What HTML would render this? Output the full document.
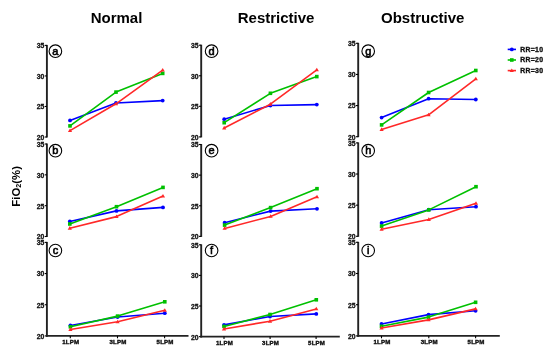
<!DOCTYPE html><html><head><meta charset="utf-8"><title>FiO2 figure</title><style>html,body{margin:0;padding:0;background:#fff;}body{width:550px;height:355px;overflow:hidden;}svg{display:block;}</style></head><body>
<svg width="550" height="355" viewBox="0 0 550 355" font-family="'Liberation Sans', Arial, Helvetica, sans-serif">
<rect width="550" height="355" fill="#fff"/>
<g>
<text x="116.5" y="22.7" font-size="15" font-weight="bold" text-anchor="middle" fill="#000">Normal</text>
<text x="276.1" y="22.7" font-size="15" font-weight="bold" text-anchor="middle" fill="#000">Restrictive</text>
<text x="422.7" y="22.7" font-size="15" font-weight="bold" text-anchor="middle" fill="#000">Obstructive</text>
<text transform="translate(20.3,186.3) rotate(-90)" font-size="11.4" font-weight="bold" text-anchor="middle" fill="#000">FiO<tspan font-size="7.2" dy="0.9">2</tspan><tspan dy="-0.9">(%)</tspan></text>
<g><line x1="46.9" y1="44.90" x2="46.9" y2="137.50" stroke="#222" stroke-width="1.9"/><line x1="44.70" y1="45.40" x2="46.9" y2="45.40" stroke="#000" stroke-width="1.1"/><text x="44.30" y="48.30" font-size="6.8" font-weight="bold" text-anchor="end" fill="#111" stroke="#111" stroke-width="0.3">35</text><line x1="44.70" y1="75.93" x2="46.9" y2="75.93" stroke="#000" stroke-width="1.1"/><text x="44.30" y="78.83" font-size="6.8" font-weight="bold" text-anchor="end" fill="#111" stroke="#111" stroke-width="0.3">30</text><line x1="44.70" y1="106.47" x2="46.9" y2="106.47" stroke="#000" stroke-width="1.1"/><text x="44.30" y="109.37" font-size="6.8" font-weight="bold" text-anchor="end" fill="#111" stroke="#111" stroke-width="0.3">25</text><line x1="44.70" y1="137.00" x2="46.9" y2="137.00" stroke="#000" stroke-width="1.1"/><text x="44.30" y="139.90" font-size="6.8" font-weight="bold" text-anchor="end" fill="#111" stroke="#111" stroke-width="0.3">20</text><circle cx="55.4" cy="51.2" r="6.3" fill="none" stroke="#000" stroke-width="1.1"/><text x="55.4" y="54.90" font-size="11" text-anchor="middle" fill="#000" stroke="#000" stroke-width="0.6">a</text><polyline points="70.00,120.40 116.00,103.00 162.70,100.60" fill="none" stroke="#0000ff" stroke-width="1.6" stroke-linejoin="round"/><circle cx="70.00" cy="120.40" r="1.9" fill="#0000ff"/><circle cx="116.00" cy="103.00" r="1.9" fill="#0000ff"/><circle cx="162.70" cy="100.60" r="1.9" fill="#0000ff"/><polyline points="70.00,125.90 116.00,92.10 162.70,73.40" fill="none" stroke="#00c000" stroke-width="1.6" stroke-linejoin="round"/><rect x="68.20" y="124.10" width="3.6" height="3.6" fill="#00c000"/><rect x="114.20" y="90.30" width="3.6" height="3.6" fill="#00c000"/><rect x="160.90" y="71.60" width="3.6" height="3.6" fill="#00c000"/><polyline points="70.00,130.60 116.00,103.80 162.70,70.10" fill="none" stroke="#ff2828" stroke-width="1.6" stroke-linejoin="round"/><polygon points="70.00,128.44 67.91,132.04 72.09,132.04" fill="#ff2828"/><polygon points="116.00,101.64 113.91,105.24 118.09,105.24" fill="#ff2828"/><polygon points="162.70,67.94 160.61,71.54 164.79,71.54" fill="#ff2828"/></g>
<g><line x1="46.9" y1="143.50" x2="46.9" y2="237.00" stroke="#222" stroke-width="1.9"/><line x1="44.70" y1="144.00" x2="46.9" y2="144.00" stroke="#000" stroke-width="1.1"/><text x="44.30" y="146.90" font-size="6.8" font-weight="bold" text-anchor="end" fill="#111" stroke="#111" stroke-width="0.3">35</text><line x1="44.70" y1="174.83" x2="46.9" y2="174.83" stroke="#000" stroke-width="1.1"/><text x="44.30" y="177.73" font-size="6.8" font-weight="bold" text-anchor="end" fill="#111" stroke="#111" stroke-width="0.3">30</text><line x1="44.70" y1="205.67" x2="46.9" y2="205.67" stroke="#000" stroke-width="1.1"/><text x="44.30" y="208.57" font-size="6.8" font-weight="bold" text-anchor="end" fill="#111" stroke="#111" stroke-width="0.3">25</text><line x1="44.70" y1="236.50" x2="46.9" y2="236.50" stroke="#000" stroke-width="1.1"/><text x="44.30" y="239.40" font-size="6.8" font-weight="bold" text-anchor="end" fill="#111" stroke="#111" stroke-width="0.3">20</text><circle cx="55.4" cy="150.7" r="6.3" fill="none" stroke="#000" stroke-width="1.1"/><text x="55.4" y="154.40" font-size="11" text-anchor="middle" fill="#000" stroke="#000" stroke-width="0.6">b</text><polyline points="69.80,221.50 116.50,210.90 163.00,207.40" fill="none" stroke="#0000ff" stroke-width="1.6" stroke-linejoin="round"/><circle cx="69.80" cy="221.50" r="1.9" fill="#0000ff"/><circle cx="116.50" cy="210.90" r="1.9" fill="#0000ff"/><circle cx="163.00" cy="207.40" r="1.9" fill="#0000ff"/><polyline points="69.80,224.00 116.50,206.70 163.00,187.40" fill="none" stroke="#00c000" stroke-width="1.6" stroke-linejoin="round"/><rect x="68.00" y="222.20" width="3.6" height="3.6" fill="#00c000"/><rect x="114.70" y="204.90" width="3.6" height="3.6" fill="#00c000"/><rect x="161.20" y="185.60" width="3.6" height="3.6" fill="#00c000"/><polyline points="69.80,228.20 116.50,216.60 163.00,196.10" fill="none" stroke="#ff2828" stroke-width="1.6" stroke-linejoin="round"/><polygon points="69.80,226.04 67.71,229.64 71.89,229.64" fill="#ff2828"/><polygon points="116.50,214.44 114.41,218.04 118.59,218.04" fill="#ff2828"/><polygon points="163.00,193.94 160.91,197.54 165.09,197.54" fill="#ff2828"/></g>
<g><line x1="46.9" y1="241.90" x2="46.9" y2="336.85" stroke="#222" stroke-width="1.9"/><line x1="44.70" y1="242.40" x2="46.9" y2="242.40" stroke="#000" stroke-width="1.1"/><text x="44.30" y="245.30" font-size="6.8" font-weight="bold" text-anchor="end" fill="#111" stroke="#111" stroke-width="0.3">35</text><line x1="44.70" y1="273.57" x2="46.9" y2="273.57" stroke="#000" stroke-width="1.1"/><text x="44.30" y="276.47" font-size="6.8" font-weight="bold" text-anchor="end" fill="#111" stroke="#111" stroke-width="0.3">30</text><line x1="44.70" y1="304.73" x2="46.9" y2="304.73" stroke="#000" stroke-width="1.1"/><text x="44.30" y="307.63" font-size="6.8" font-weight="bold" text-anchor="end" fill="#111" stroke="#111" stroke-width="0.3">25</text><line x1="44.70" y1="335.90" x2="46.9" y2="335.90" stroke="#000" stroke-width="1.1"/><text x="44.30" y="338.80" font-size="6.8" font-weight="bold" text-anchor="end" fill="#111" stroke="#111" stroke-width="0.3">20</text><line x1="45.95" y1="335.9" x2="188.5" y2="335.9" stroke="#222" stroke-width="1.9"/><line x1="70.3" y1="335.9" x2="70.3" y2="338.29999999999995" stroke="#000" stroke-width="1.1"/><text x="70.80" y="344.10" font-size="6.1" letter-spacing="0.2" font-weight="bold" text-anchor="middle" fill="#111" stroke="#111" stroke-width="0.38">1LPM</text><line x1="117.5" y1="335.9" x2="117.5" y2="338.29999999999995" stroke="#000" stroke-width="1.1"/><text x="118.00" y="344.10" font-size="6.1" letter-spacing="0.2" font-weight="bold" text-anchor="middle" fill="#111" stroke="#111" stroke-width="0.38">3LPM</text><line x1="164.6" y1="335.9" x2="164.6" y2="338.29999999999995" stroke="#000" stroke-width="1.1"/><text x="165.10" y="344.10" font-size="6.1" letter-spacing="0.2" font-weight="bold" text-anchor="middle" fill="#111" stroke="#111" stroke-width="0.38">5LPM</text><circle cx="55.4" cy="250.5" r="6.3" fill="none" stroke="#000" stroke-width="1.1"/><text x="55.4" y="254.20" font-size="11" text-anchor="middle" fill="#000" stroke="#000" stroke-width="0.6">c</text><polyline points="70.40,325.50 117.60,317.00 164.80,313.20" fill="none" stroke="#0000ff" stroke-width="1.6" stroke-linejoin="round"/><circle cx="70.40" cy="325.50" r="1.9" fill="#0000ff"/><circle cx="117.60" cy="317.00" r="1.9" fill="#0000ff"/><circle cx="164.80" cy="313.20" r="1.9" fill="#0000ff"/><polyline points="70.40,326.80 117.60,316.10 164.80,301.80" fill="none" stroke="#00c000" stroke-width="1.6" stroke-linejoin="round"/><rect x="68.60" y="325.00" width="3.6" height="3.6" fill="#00c000"/><rect x="115.80" y="314.30" width="3.6" height="3.6" fill="#00c000"/><rect x="163.00" y="300.00" width="3.6" height="3.6" fill="#00c000"/><polyline points="70.40,329.50 117.60,321.80 164.80,310.30" fill="none" stroke="#ff2828" stroke-width="1.6" stroke-linejoin="round"/><polygon points="70.40,327.34 68.31,330.94 72.49,330.94" fill="#ff2828"/><polygon points="117.60,319.64 115.51,323.24 119.69,323.24" fill="#ff2828"/><polygon points="164.80,308.14 162.71,311.74 166.89,311.74" fill="#ff2828"/></g>
<g><line x1="201.2" y1="44.70" x2="201.2" y2="137.40" stroke="#222" stroke-width="1.9"/><line x1="199.00" y1="45.20" x2="201.2" y2="45.20" stroke="#000" stroke-width="1.1"/><text x="198.60" y="48.10" font-size="6.8" font-weight="bold" text-anchor="end" fill="#111" stroke="#111" stroke-width="0.3">35</text><line x1="199.00" y1="75.77" x2="201.2" y2="75.77" stroke="#000" stroke-width="1.1"/><text x="198.60" y="78.67" font-size="6.8" font-weight="bold" text-anchor="end" fill="#111" stroke="#111" stroke-width="0.3">30</text><line x1="199.00" y1="106.33" x2="201.2" y2="106.33" stroke="#000" stroke-width="1.1"/><text x="198.60" y="109.23" font-size="6.8" font-weight="bold" text-anchor="end" fill="#111" stroke="#111" stroke-width="0.3">25</text><line x1="199.00" y1="136.90" x2="201.2" y2="136.90" stroke="#000" stroke-width="1.1"/><text x="198.60" y="139.80" font-size="6.8" font-weight="bold" text-anchor="end" fill="#111" stroke="#111" stroke-width="0.3">20</text><circle cx="211.6" cy="51.2" r="6.3" fill="none" stroke="#000" stroke-width="1.1"/><text x="211.6" y="54.90" font-size="11" text-anchor="middle" fill="#000" stroke="#000" stroke-width="0.6">d</text><polyline points="224.20,119.20 270.40,105.50 316.80,104.60" fill="none" stroke="#0000ff" stroke-width="1.6" stroke-linejoin="round"/><circle cx="224.20" cy="119.20" r="1.9" fill="#0000ff"/><circle cx="270.40" cy="105.50" r="1.9" fill="#0000ff"/><circle cx="316.80" cy="104.60" r="1.9" fill="#0000ff"/><polyline points="224.20,122.70 270.40,93.30 316.80,76.60" fill="none" stroke="#00c000" stroke-width="1.6" stroke-linejoin="round"/><rect x="222.40" y="120.90" width="3.6" height="3.6" fill="#00c000"/><rect x="268.60" y="91.50" width="3.6" height="3.6" fill="#00c000"/><rect x="315.00" y="74.80" width="3.6" height="3.6" fill="#00c000"/><polyline points="224.20,128.00 270.40,104.20 316.80,69.90" fill="none" stroke="#ff2828" stroke-width="1.6" stroke-linejoin="round"/><polygon points="224.20,125.84 222.11,129.44 226.29,129.44" fill="#ff2828"/><polygon points="270.40,102.04 268.31,105.64 272.49,105.64" fill="#ff2828"/><polygon points="316.80,67.74 314.71,71.34 318.89,71.34" fill="#ff2828"/></g>
<g><line x1="201.2" y1="144.00" x2="201.2" y2="236.90" stroke="#222" stroke-width="1.9"/><line x1="199.00" y1="144.50" x2="201.2" y2="144.50" stroke="#000" stroke-width="1.1"/><text x="198.60" y="147.40" font-size="6.8" font-weight="bold" text-anchor="end" fill="#111" stroke="#111" stroke-width="0.3">35</text><line x1="199.00" y1="175.13" x2="201.2" y2="175.13" stroke="#000" stroke-width="1.1"/><text x="198.60" y="178.03" font-size="6.8" font-weight="bold" text-anchor="end" fill="#111" stroke="#111" stroke-width="0.3">30</text><line x1="199.00" y1="205.77" x2="201.2" y2="205.77" stroke="#000" stroke-width="1.1"/><text x="198.60" y="208.67" font-size="6.8" font-weight="bold" text-anchor="end" fill="#111" stroke="#111" stroke-width="0.3">25</text><line x1="199.00" y1="236.40" x2="201.2" y2="236.40" stroke="#000" stroke-width="1.1"/><text x="198.60" y="239.30" font-size="6.8" font-weight="bold" text-anchor="end" fill="#111" stroke="#111" stroke-width="0.3">20</text><circle cx="211.6" cy="150.7" r="6.3" fill="none" stroke="#000" stroke-width="1.1"/><text x="211.6" y="154.40" font-size="11" text-anchor="middle" fill="#000" stroke="#000" stroke-width="0.6">e</text><polyline points="224.60,222.70 270.60,211.10 317.00,208.80" fill="none" stroke="#0000ff" stroke-width="1.6" stroke-linejoin="round"/><circle cx="224.60" cy="222.70" r="1.9" fill="#0000ff"/><circle cx="270.60" cy="211.10" r="1.9" fill="#0000ff"/><circle cx="317.00" cy="208.80" r="1.9" fill="#0000ff"/><polyline points="224.60,225.10 270.60,207.60 317.00,188.70" fill="none" stroke="#00c000" stroke-width="1.6" stroke-linejoin="round"/><rect x="222.80" y="223.30" width="3.6" height="3.6" fill="#00c000"/><rect x="268.80" y="205.80" width="3.6" height="3.6" fill="#00c000"/><rect x="315.20" y="186.90" width="3.6" height="3.6" fill="#00c000"/><polyline points="224.60,228.40 270.60,216.40 317.00,196.80" fill="none" stroke="#ff2828" stroke-width="1.6" stroke-linejoin="round"/><polygon points="224.60,226.24 222.51,229.84 226.69,229.84" fill="#ff2828"/><polygon points="270.60,214.24 268.51,217.84 272.69,217.84" fill="#ff2828"/><polygon points="317.00,194.64 314.91,198.24 319.09,198.24" fill="#ff2828"/></g>
<g><line x1="201.2" y1="244.30" x2="201.2" y2="337.55" stroke="#222" stroke-width="1.9"/><line x1="199.00" y1="244.80" x2="201.2" y2="244.80" stroke="#000" stroke-width="1.1"/><text x="198.60" y="247.70" font-size="6.8" font-weight="bold" text-anchor="end" fill="#111" stroke="#111" stroke-width="0.3">35</text><line x1="199.00" y1="275.40" x2="201.2" y2="275.40" stroke="#000" stroke-width="1.1"/><text x="198.60" y="278.30" font-size="6.8" font-weight="bold" text-anchor="end" fill="#111" stroke="#111" stroke-width="0.3">30</text><line x1="199.00" y1="306.00" x2="201.2" y2="306.00" stroke="#000" stroke-width="1.1"/><text x="198.60" y="308.90" font-size="6.8" font-weight="bold" text-anchor="end" fill="#111" stroke="#111" stroke-width="0.3">25</text><line x1="199.00" y1="336.60" x2="201.2" y2="336.60" stroke="#000" stroke-width="1.1"/><text x="198.60" y="339.50" font-size="6.8" font-weight="bold" text-anchor="end" fill="#111" stroke="#111" stroke-width="0.3">20</text><line x1="200.25" y1="336.6" x2="339.8" y2="336.6" stroke="#222" stroke-width="1.9"/><line x1="224.0" y1="336.6" x2="224.0" y2="339.0" stroke="#000" stroke-width="1.1"/><text x="224.50" y="344.80" font-size="6.1" letter-spacing="0.2" font-weight="bold" text-anchor="middle" fill="#111" stroke="#111" stroke-width="0.38">1LPM</text><line x1="270.1" y1="336.6" x2="270.1" y2="339.0" stroke="#000" stroke-width="1.1"/><text x="270.60" y="344.80" font-size="6.1" letter-spacing="0.2" font-weight="bold" text-anchor="middle" fill="#111" stroke="#111" stroke-width="0.38">3LPM</text><line x1="316.1" y1="336.6" x2="316.1" y2="339.0" stroke="#000" stroke-width="1.1"/><text x="316.60" y="344.80" font-size="6.1" letter-spacing="0.2" font-weight="bold" text-anchor="middle" fill="#111" stroke="#111" stroke-width="0.38">5LPM</text><circle cx="211.6" cy="250.5" r="6.3" fill="none" stroke="#000" stroke-width="1.1"/><text x="211.6" y="254.20" font-size="11" text-anchor="middle" fill="#000" stroke="#000" stroke-width="0.6">f</text><polyline points="224.00,324.90 270.00,316.50 316.30,313.90" fill="none" stroke="#0000ff" stroke-width="1.6" stroke-linejoin="round"/><circle cx="224.00" cy="324.90" r="1.9" fill="#0000ff"/><circle cx="270.00" cy="316.50" r="1.9" fill="#0000ff"/><circle cx="316.30" cy="313.90" r="1.9" fill="#0000ff"/><polyline points="224.00,326.40 270.00,314.50 316.30,299.80" fill="none" stroke="#00c000" stroke-width="1.6" stroke-linejoin="round"/><rect x="222.20" y="324.60" width="3.6" height="3.6" fill="#00c000"/><rect x="268.20" y="312.70" width="3.6" height="3.6" fill="#00c000"/><rect x="314.50" y="298.00" width="3.6" height="3.6" fill="#00c000"/><polyline points="224.00,329.00 270.00,321.20 316.30,308.90" fill="none" stroke="#ff2828" stroke-width="1.6" stroke-linejoin="round"/><polygon points="224.00,326.84 221.91,330.44 226.09,330.44" fill="#ff2828"/><polygon points="270.00,319.04 267.91,322.64 272.09,322.64" fill="#ff2828"/><polygon points="316.30,306.74 314.21,310.34 318.39,310.34" fill="#ff2828"/></g>
<g><line x1="358.2" y1="42.80" x2="358.2" y2="137.20" stroke="#222" stroke-width="1.9"/><line x1="356.00" y1="43.30" x2="358.2" y2="43.30" stroke="#000" stroke-width="1.1"/><text x="355.60" y="46.20" font-size="6.8" font-weight="bold" text-anchor="end" fill="#111" stroke="#111" stroke-width="0.3">35</text><line x1="356.00" y1="74.43" x2="358.2" y2="74.43" stroke="#000" stroke-width="1.1"/><text x="355.60" y="77.33" font-size="6.8" font-weight="bold" text-anchor="end" fill="#111" stroke="#111" stroke-width="0.3">30</text><line x1="356.00" y1="105.57" x2="358.2" y2="105.57" stroke="#000" stroke-width="1.1"/><text x="355.60" y="108.47" font-size="6.8" font-weight="bold" text-anchor="end" fill="#111" stroke="#111" stroke-width="0.3">25</text><line x1="356.00" y1="136.70" x2="358.2" y2="136.70" stroke="#000" stroke-width="1.1"/><text x="355.60" y="139.60" font-size="6.8" font-weight="bold" text-anchor="end" fill="#111" stroke="#111" stroke-width="0.3">20</text><circle cx="368.2" cy="51.2" r="6.3" fill="none" stroke="#000" stroke-width="1.1"/><text x="368.2" y="54.90" font-size="11" text-anchor="middle" fill="#000" stroke="#000" stroke-width="0.6">g</text><polyline points="381.60,117.60 428.60,98.70 475.80,99.50" fill="none" stroke="#0000ff" stroke-width="1.6" stroke-linejoin="round"/><circle cx="381.60" cy="117.60" r="1.9" fill="#0000ff"/><circle cx="428.60" cy="98.70" r="1.9" fill="#0000ff"/><circle cx="475.80" cy="99.50" r="1.9" fill="#0000ff"/><polyline points="381.60,124.90 428.60,92.50 475.80,70.50" fill="none" stroke="#00c000" stroke-width="1.6" stroke-linejoin="round"/><rect x="379.80" y="123.10" width="3.6" height="3.6" fill="#00c000"/><rect x="426.80" y="90.70" width="3.6" height="3.6" fill="#00c000"/><rect x="474.00" y="68.70" width="3.6" height="3.6" fill="#00c000"/><polyline points="381.60,129.50 428.60,114.80 475.80,78.90" fill="none" stroke="#ff2828" stroke-width="1.6" stroke-linejoin="round"/><polygon points="381.60,127.34 379.51,130.94 383.69,130.94" fill="#ff2828"/><polygon points="428.60,112.64 426.51,116.24 430.69,116.24" fill="#ff2828"/><polygon points="475.80,76.74 473.71,80.34 477.89,80.34" fill="#ff2828"/></g>
<g><line x1="358.2" y1="142.40" x2="358.2" y2="236.80" stroke="#222" stroke-width="1.9"/><line x1="356.00" y1="142.90" x2="358.2" y2="142.90" stroke="#000" stroke-width="1.1"/><text x="355.60" y="145.80" font-size="6.8" font-weight="bold" text-anchor="end" fill="#111" stroke="#111" stroke-width="0.3">35</text><line x1="356.00" y1="174.03" x2="358.2" y2="174.03" stroke="#000" stroke-width="1.1"/><text x="355.60" y="176.93" font-size="6.8" font-weight="bold" text-anchor="end" fill="#111" stroke="#111" stroke-width="0.3">30</text><line x1="356.00" y1="205.17" x2="358.2" y2="205.17" stroke="#000" stroke-width="1.1"/><text x="355.60" y="208.07" font-size="6.8" font-weight="bold" text-anchor="end" fill="#111" stroke="#111" stroke-width="0.3">25</text><line x1="356.00" y1="236.30" x2="358.2" y2="236.30" stroke="#000" stroke-width="1.1"/><text x="355.60" y="239.20" font-size="6.8" font-weight="bold" text-anchor="end" fill="#111" stroke="#111" stroke-width="0.3">20</text><circle cx="368.2" cy="150.7" r="6.3" fill="none" stroke="#000" stroke-width="1.1"/><text x="368.2" y="154.40" font-size="11" text-anchor="middle" fill="#000" stroke="#000" stroke-width="0.6">h</text><polyline points="381.60,223.00 428.80,209.70 476.00,206.70" fill="none" stroke="#0000ff" stroke-width="1.6" stroke-linejoin="round"/><circle cx="381.60" cy="223.00" r="1.9" fill="#0000ff"/><circle cx="428.80" cy="209.70" r="1.9" fill="#0000ff"/><circle cx="476.00" cy="206.70" r="1.9" fill="#0000ff"/><polyline points="381.60,226.10 428.80,209.90 476.00,186.70" fill="none" stroke="#00c000" stroke-width="1.6" stroke-linejoin="round"/><rect x="379.80" y="224.30" width="3.6" height="3.6" fill="#00c000"/><rect x="427.00" y="208.10" width="3.6" height="3.6" fill="#00c000"/><rect x="474.20" y="184.90" width="3.6" height="3.6" fill="#00c000"/><polyline points="381.60,229.20 428.80,219.50 476.00,203.30" fill="none" stroke="#ff2828" stroke-width="1.6" stroke-linejoin="round"/><polygon points="381.60,227.04 379.51,230.64 383.69,230.64" fill="#ff2828"/><polygon points="428.80,217.34 426.71,220.94 430.89,220.94" fill="#ff2828"/><polygon points="476.00,201.14 473.91,204.74 478.09,204.74" fill="#ff2828"/></g>
<g><line x1="358.2" y1="241.80" x2="358.2" y2="336.85" stroke="#222" stroke-width="1.9"/><line x1="356.00" y1="242.30" x2="358.2" y2="242.30" stroke="#000" stroke-width="1.1"/><text x="355.60" y="245.20" font-size="6.8" font-weight="bold" text-anchor="end" fill="#111" stroke="#111" stroke-width="0.3">35</text><line x1="356.00" y1="273.50" x2="358.2" y2="273.50" stroke="#000" stroke-width="1.1"/><text x="355.60" y="276.40" font-size="6.8" font-weight="bold" text-anchor="end" fill="#111" stroke="#111" stroke-width="0.3">30</text><line x1="356.00" y1="304.70" x2="358.2" y2="304.70" stroke="#000" stroke-width="1.1"/><text x="355.60" y="307.60" font-size="6.8" font-weight="bold" text-anchor="end" fill="#111" stroke="#111" stroke-width="0.3">25</text><line x1="356.00" y1="335.90" x2="358.2" y2="335.90" stroke="#000" stroke-width="1.1"/><text x="355.60" y="338.80" font-size="6.8" font-weight="bold" text-anchor="end" fill="#111" stroke="#111" stroke-width="0.3">20</text><line x1="357.25" y1="335.9" x2="499.8" y2="335.9" stroke="#222" stroke-width="1.9"/><line x1="381.5" y1="335.9" x2="381.5" y2="338.29999999999995" stroke="#000" stroke-width="1.1"/><text x="382.00" y="344.10" font-size="6.1" letter-spacing="0.2" font-weight="bold" text-anchor="middle" fill="#111" stroke="#111" stroke-width="0.38">1LPM</text><line x1="428.8" y1="335.9" x2="428.8" y2="338.29999999999995" stroke="#000" stroke-width="1.1"/><text x="429.30" y="344.10" font-size="6.1" letter-spacing="0.2" font-weight="bold" text-anchor="middle" fill="#111" stroke="#111" stroke-width="0.38">3LPM</text><line x1="475.6" y1="335.9" x2="475.6" y2="338.29999999999995" stroke="#000" stroke-width="1.1"/><text x="476.10" y="344.10" font-size="6.1" letter-spacing="0.2" font-weight="bold" text-anchor="middle" fill="#111" stroke="#111" stroke-width="0.38">5LPM</text><circle cx="368.2" cy="250.5" r="6.3" fill="none" stroke="#000" stroke-width="1.1"/><text x="368.2" y="254.20" font-size="11" text-anchor="middle" fill="#000" stroke="#000" stroke-width="0.6">i</text><polyline points="381.50,324.00 428.50,314.60 475.60,310.80" fill="none" stroke="#0000ff" stroke-width="1.6" stroke-linejoin="round"/><circle cx="381.50" cy="324.00" r="1.9" fill="#0000ff"/><circle cx="428.50" cy="314.60" r="1.9" fill="#0000ff"/><circle cx="475.60" cy="310.80" r="1.9" fill="#0000ff"/><polyline points="381.50,326.30 428.50,317.10 475.60,302.30" fill="none" stroke="#00c000" stroke-width="1.6" stroke-linejoin="round"/><rect x="379.70" y="324.50" width="3.6" height="3.6" fill="#00c000"/><rect x="426.70" y="315.30" width="3.6" height="3.6" fill="#00c000"/><rect x="473.80" y="300.50" width="3.6" height="3.6" fill="#00c000"/><polyline points="381.50,328.00 428.50,319.90 475.60,308.90" fill="none" stroke="#ff2828" stroke-width="1.6" stroke-linejoin="round"/><polygon points="381.50,325.84 379.41,329.44 383.59,329.44" fill="#ff2828"/><polygon points="428.50,317.74 426.41,321.34 430.59,321.34" fill="#ff2828"/><polygon points="475.60,306.74 473.51,310.34 477.69,310.34" fill="#ff2828"/></g>
<line x1="507.7" y1="49.4" x2="516" y2="49.4" stroke="#0000ff" stroke-width="1.6"/>
<circle cx="511.80" cy="49.40" r="1.9" fill="#0000ff"/>
<text x="520.2" y="51.80" font-size="6.9" font-weight="bold" letter-spacing="0.3" fill="#111" stroke="#111" stroke-width="0.35">RR=10</text>
<line x1="507.7" y1="60.0" x2="516" y2="60.0" stroke="#00c000" stroke-width="1.6"/>
<rect x="510.00" y="58.20" width="3.6" height="3.6" fill="#00c000"/>
<text x="520.2" y="62.40" font-size="6.9" font-weight="bold" letter-spacing="0.3" fill="#111" stroke="#111" stroke-width="0.35">RR=20</text>
<line x1="507.7" y1="70.6" x2="516" y2="70.6" stroke="#ff2828" stroke-width="1.6"/>
<polygon points="511.80,68.44 509.71,72.04 513.89,72.04" fill="#ff2828"/>
<text x="520.2" y="73.00" font-size="6.9" font-weight="bold" letter-spacing="0.3" fill="#111" stroke="#111" stroke-width="0.35">RR=30</text>
</g></svg></body></html>
